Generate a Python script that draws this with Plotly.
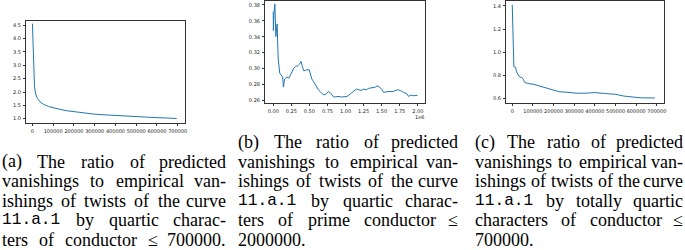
import plotly.graph_objects as go

# ---------------- data ----------------
a_x = [0, 3000, 6500, 10000, 16000, 24000, 37000, 53000, 77000, 100000, 133000, 165000,
       200000, 250000, 300000, 350000, 400000, 450000, 500000, 550000, 600000, 650000, 695000]
a_y = [4.56, 3.70, 2.90, 2.18, 1.92, 1.76, 1.63, 1.54, 1.46, 1.41, 1.35, 1.30,
       1.26, 1.21, 1.17, 1.145, 1.12, 1.10, 1.08, 1.06, 1.04, 1.025, 1.01]

b_x = [0.000, 0.002, 0.010, 0.0226, 0.036, 0.054, 0.068, 0.090, 0.113, 0.131, 0.140, 0.158,
       0.186, 0.217, 0.240, 0.262, 0.285, 0.308, 0.339, 0.367, 0.385, 0.403, 0.421, 0.443,
       0.466, 0.498, 0.511, 0.534, 0.557, 0.579, 0.602, 0.624, 0.647, 0.670, 0.692, 0.715,
       0.738, 0.760, 0.783, 0.805, 0.828, 0.851, 0.896, 0.941, 0.977, 1.023, 1.069, 1.115,
       1.151, 1.183, 1.216, 1.252, 1.289, 1.321, 1.367, 1.413, 1.436, 1.472, 1.505, 1.528,
       1.573, 1.619, 1.665, 1.720, 1.757, 1.803, 1.849, 1.872, 1.904, 1.940, 1.995]
b_y = [0.3716, 0.3478, 0.370, 0.3813, 0.3403, 0.3562, 0.3131, 0.2943, 0.2922, 0.2893, 0.2767, 0.2868,
       0.2893, 0.288, 0.2922, 0.2964, 0.3006, 0.3027, 0.3035, 0.306, 0.3089, 0.3027, 0.2972, 0.2976,
       0.2985, 0.2985, 0.2943, 0.2868, 0.2838, 0.2797, 0.2767, 0.2734, 0.2713, 0.2692, 0.2671, 0.2671,
       0.2684, 0.2709, 0.2701, 0.268, 0.265, 0.2642, 0.265, 0.2642, 0.2642, 0.265, 0.2684, 0.2713,
       0.2742, 0.2734, 0.2725, 0.2742, 0.2734, 0.2751, 0.2755, 0.2767, 0.2784, 0.2767, 0.2734, 0.2700,
       0.2709, 0.2709, 0.2713, 0.2734, 0.2725, 0.2700, 0.2684, 0.265, 0.2667, 0.2658, 0.2663]

c_x = [0, 8000, 16000, 21000, 29000, 37000, 45000, 53000, 61000, 69000, 85000, 101000, 117000,
       133000, 148000, 165000, 180000, 196000, 212000, 228000, 260000, 276000, 308000, 356000,
       400000, 450000, 500000, 540000, 570000, 620000, 690000]
c_y = [1.41, 0.874, 0.869, 0.831, 0.803, 0.783, 0.783, 0.766, 0.737, 0.731, 0.726, 0.723, 0.714,
       0.709, 0.697, 0.691, 0.68, 0.669, 0.66, 0.657, 0.654, 0.649, 0.645, 0.645,
       0.650, 0.642, 0.635, 0.62, 0.612, 0.605, 0.603]

a_yticks = [1.0, 1.5, 2.0, 2.5, 3.0, 3.5, 4.0, 4.5]
a_ytext = ["1.0", "1.5", "2.0", "2.5", "3.0", "3.5", "4.0", "4.5"]
ac_xticks = [0, 100000, 200000, 300000, 400000, 500000, 600000, 700000]
ac_xtext = ["0", "100000", "200000", "300000", "400000", "500000", "600000", "700000"]
b_yticks = [0.26, 0.28, 0.30, 0.32, 0.34, 0.36, 0.38]
b_ytext = ["0.26", "0.28", "0.30", "0.32", "0.34", "0.36", "0.38"]
b_xticks = [0.0, 0.25, 0.5, 0.75, 1.0, 1.25, 1.5, 1.75, 2.0]
b_xtext = ["0.00", "0.25", "0.50", "0.75", "1.00", "1.25", "1.50", "1.75", "2.00"]
c_yticks = [0.6, 0.8, 1.0, 1.2, 1.4]
c_ytext = ["0.6", "0.8", "1.0", "1.2", "1.4"]

# caption lines: list of words; ("M", word) = monospace
cap_a = [
    (["(a)", "The", "ratio", "of", "predicted"], True),
    (["vanishings", "to", "empirical", "van-"], True),
    (["ishings", "of", "twists", "of", "the", "curve"], True),
    ([("M", "11.a.1"), "by", "quartic", "charac-"], True),
    (["ters", "of", "conductor", "≤", "700000."], True),
]
cap_b = [
    (["(b)", "The", "ratio", "of", "predicted"], True),
    (["vanishings", "to", "empirical", "van-"], True),
    (["ishings", "of", "twists", "of", "the", "curve"], True),
    ([("M", "11.a.1"), "by", "quartic", "charac-"], True),
    (["ters", "of", "prime", "conductor", "≤"], True),
    (["2000000."], False),
]
cap_c = [
    (["(c)", "The", "ratio", "of", "predicted"], True),
    (["vanishings", "to", "empirical", "van-"], True),
    (["ishings", "of", "twists", "of", "the", "curve"], True),
    ([("M", "11.a.1"), "by", "totally", "quartic"], True),
    (["characters", "of", "conductor", "≤"], True),
    (["700000."], False),
]

# ---------------- figure ----------------
W, H = 685, 250
BLUE = "#1f77b4"
TICKFONT = dict(family="DejaVu Sans", size=5, color="#222")
SERIF = "Liberation Serif"
MONO = "Liberation Mono"
FS = 18
FM = 16.2

fig = go.Figure()
fig.add_trace(go.Scatter(x=a_x, y=a_y, mode="lines", line=dict(color=BLUE, width=1),
                         xaxis="x", yaxis="y", showlegend=False))
fig.add_trace(go.Scatter(x=b_x, y=b_y, mode="lines", line=dict(color=BLUE, width=1),
                         xaxis="x2", yaxis="y2", showlegend=False))
fig.add_trace(go.Scatter(x=c_x, y=c_y, mode="lines", line=dict(color=BLUE, width=1),
                         xaxis="x3", yaxis="y3", showlegend=False))


def ax(domain, rng, tv, tt, anchor):
    return dict(domain=domain, range=rng, tickvals=tv, ticktext=tt, anchor=anchor,
                showline=True, mirror=True, linecolor="#333", linewidth=1,
                ticks="outside", ticklen=2, tickwidth=0.8, tickcolor="#333",
                showgrid=False, zeroline=False, tickfont=TICKFONT, ticklabelstandoff=1,
                tickangle=0, automargin=False)


def px_x(a, b):
    return [a / W, b / W]


def px_y(top, bottom):
    return [1 - bottom / H, 1 - top / H]


fig.update_layout(
    width=W, height=H, margin=dict(l=0, r=0, t=0, b=0, autoexpand=False),
    paper_bgcolor="white", plot_bgcolor="white",
    xaxis=ax(px_x(26, 185), [-31000, 735000], ac_xticks, ac_xtext, "y"),
    yaxis=ax(px_y(21, 123), [0.84, 4.66], a_yticks, a_ytext, "x"),
    xaxis2=ax(px_x(265, 425), [-0.114, 2.10], b_xticks, b_xtext, "y2"),
    yaxis2=ax(px_y(0.5, 103), [0.2567, 0.3856], b_yticks, b_ytext, "x2"),
    xaxis3=ax(px_x(506, 664), [-30200, 734500], ac_xticks, ac_xtext, "y3"),
    yaxis3=ax(px_y(0.5, 103), [0.560, 1.447], c_yticks, c_ytext, "x3"),
)

fig.add_annotation(text="1e6", x=419 / W, y=1 - 117 / H, xref="paper", yref="paper",
                   showarrow=False, font=TICKFONT, xanchor="center", yanchor="middle")

# Times-like advance widths (per 1000 em)
TW = dict(a=444, b=500, c=444, d=500, e=444, f=333, g=500, h=500, i=278, j=278, k=500, l=278,
          m=778, n=500, o=500, p=500, q=500, r=333, s=389, t=278, u=500, v=500, w=722, x=500,
          y=500, z=444, T=611)
TW.update({"(": 333, ")": 333, ".": 250, "-": 333, "≤": 549})
for dgt in "0123456789":
    TW[dgt] = 500


def word_w(wd):
    if isinstance(wd, tuple):
        return len(wd[1]) * 600 / 1000 * FM
    return sum(TW.get(ch, 500) for ch in wd) / 1000 * FS


def add_caption(lines, x0, width, y_first, step):
    for k, (words, justify) in enumerate(lines):
        yy = 1 - (y_first + k * step) / H
        widths = [word_w(w) for w in words]
        if justify and len(words) > 1:
            gap = (width - sum(widths)) / (len(words) - 1)
        else:
            gap = 0.25 * FS
        pos = x0
        for i, wd in enumerate(words):
            if isinstance(wd, tuple):
                txt, fam, sz = wd[1], MONO, FM
            else:
                txt, fam, sz = wd, SERIF, FS
            if justify and len(words) > 1 and i == len(words) - 1:
                xx, anc = (x0 + width) / W, "right"
            else:
                xx, anc = pos / W, "left"
            fig.add_annotation(text=txt, x=xx, y=yy, xref="paper", yref="paper",
                               showarrow=False, xanchor=anc, yanchor="middle",
                               font=dict(family=fam, size=sz, color="black"),
                               borderpad=0)
            pos += widths[i] + gap


add_caption(cap_a, 0.5, 226.5, 161.8, 19.5)
add_caption(cap_b, 237, 222, 142.3, 19.5)
add_caption(cap_c, 474, 210, 142.3, 19.5)

fig.write_html("out.html", config={"displayModeBar": False},
               post_script="document.body.style.margin='0';")
